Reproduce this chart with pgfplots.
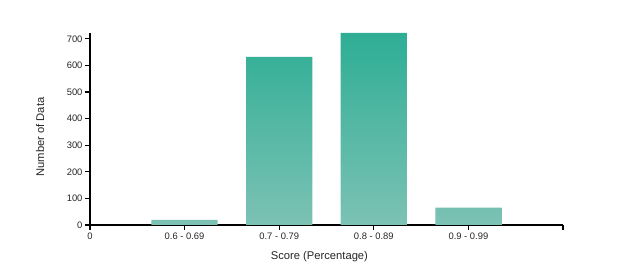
\documentclass[border=0pt]{standalone}
\usepackage{pgfplots}
\pgfplotsset{compat=1.18}
\usepackage{fontspec}
\setmainfont{Liberation Sans}
\definecolor{bartop}{HTML}{2EAE95}
\definecolor{barbot}{HTML}{7CC2B4}
\begin{document}
\begin{tikzpicture}[x=1pt,y=1pt]
\path[use as bounding box] (-90pt,-55pt) rectangle (530pt,225pt);
\begin{axis}[
  at={(0,0)}, anchor=south west,
  scale only axis,
  width=473pt, height=192pt,
  xmin=0, xmax=5, ymin=0, ymax=722,
  axis x line*=bottom, axis y line*=left,
  axis line style={line width=1.8pt, -},
  xtick={0,1,2,3,4,5},
  xticklabels={0, 0.6 - 0.69, 0.7 - 0.79, 0.8 - 0.89, 0.9 - 0.99, {}},
  ytick={0,100,...,700},
  tick align=outside,
  major tick length=5pt,
  tick style={line width=1.3pt, black},
  /pgf/number format/assume math mode=true,
  /pgf/number format/1000 sep={},
  tick label style={font=\fontsize{9.4}{10}\selectfont, text=black!85},
  xticklabel style={yshift=1pt},
  yticklabel style={xshift=1pt},
  xlabel={Score (Percentage)},
  ylabel={Number of Data},
  label style={font=\fontsize{11.2}{12}\selectfont, text=black!85},
  xlabel style={at={(axis description cs:0.485,0)}, anchor=center, yshift=-32pt},
  ylabel style={at={(axis description cs:-0.1057,0.458)}, anchor=center},
  ybar, bar width=0.7,
  clip=false,
]
\addplot[draw=none, top color=bartop, bottom color=barbot] coordinates {(1,19) (2,632) (3,722) (4,65)};
\end{axis}
\end{tikzpicture}
\end{document}
